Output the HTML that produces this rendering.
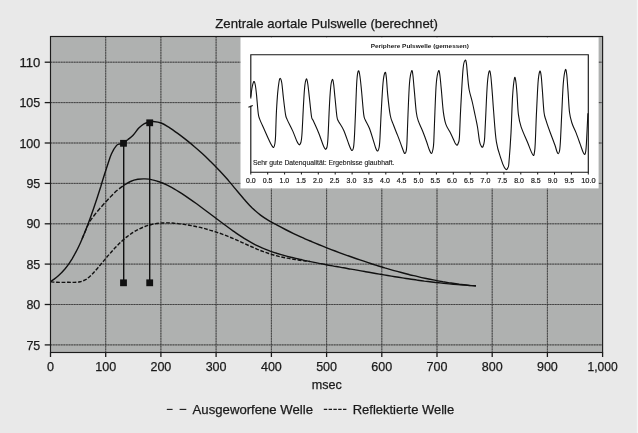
<!DOCTYPE html>
<html lang="de"><head><meta charset="utf-8"><title>Zentrale aortale Pulswelle</title>
<style>html,body{margin:0;padding:0;background:#e9e9e9;overflow:hidden}svg{display:block}text{font-family:"Liberation Sans",sans-serif;fill:#1a1a1a}</style></head><body>
<svg width="638" height="433" viewBox="0 0 638 433">
<rect width="638" height="433" fill="#e9e9e9"/>
<rect x="636.8" y="0" width="1.2" height="433" fill="#f6f6f6"/>
<rect x="50.5" y="36.5" width="552.1" height="316.0" fill="#afb1b0"/>
<g stroke="#5c5c5c" stroke-width="0.7" fill="none">
<line x1="105.7" y1="36.5" x2="105.7" y2="352.5"/>
<line x1="160.9" y1="36.5" x2="160.9" y2="352.5"/>
<line x1="216.1" y1="36.5" x2="216.1" y2="352.5"/>
<line x1="271.4" y1="36.5" x2="271.4" y2="352.5"/>
<line x1="326.6" y1="36.5" x2="326.6" y2="352.5"/>
<line x1="381.8" y1="36.5" x2="381.8" y2="352.5"/>
<line x1="437.0" y1="36.5" x2="437.0" y2="352.5"/>
<line x1="492.2" y1="36.5" x2="492.2" y2="352.5"/>
<line x1="547.4" y1="36.5" x2="547.4" y2="352.5"/>
<line x1="50.5" y1="344.9" x2="602.6" y2="344.9"/>
<line x1="50.5" y1="304.5" x2="602.6" y2="304.5"/>
<line x1="50.5" y1="264.1" x2="602.6" y2="264.1"/>
<line x1="50.5" y1="223.8" x2="602.6" y2="223.8"/>
<line x1="50.5" y1="183.4" x2="602.6" y2="183.4"/>
<line x1="50.5" y1="143.0" x2="602.6" y2="143.0"/>
<line x1="50.5" y1="102.6" x2="602.6" y2="102.6"/>
<line x1="50.5" y1="62.2" x2="602.6" y2="62.2"/>
</g>
<g stroke="#2e2e2e" stroke-width="0.7" stroke-dasharray="1.6 1" fill="none">
<line x1="105.7" y1="36.5" x2="105.7" y2="352.5"/>
<line x1="160.9" y1="36.5" x2="160.9" y2="352.5"/>
<line x1="216.1" y1="36.5" x2="216.1" y2="352.5"/>
<line x1="271.4" y1="36.5" x2="271.4" y2="352.5"/>
<line x1="326.6" y1="36.5" x2="326.6" y2="352.5"/>
<line x1="381.8" y1="36.5" x2="381.8" y2="352.5"/>
<line x1="437.0" y1="36.5" x2="437.0" y2="352.5"/>
<line x1="492.2" y1="36.5" x2="492.2" y2="352.5"/>
<line x1="547.4" y1="36.5" x2="547.4" y2="352.5"/>
<line x1="50.5" y1="344.9" x2="602.6" y2="344.9"/>
<line x1="50.5" y1="304.5" x2="602.6" y2="304.5"/>
<line x1="50.5" y1="264.1" x2="602.6" y2="264.1"/>
<line x1="50.5" y1="223.8" x2="602.6" y2="223.8"/>
<line x1="50.5" y1="183.4" x2="602.6" y2="183.4"/>
<line x1="50.5" y1="143.0" x2="602.6" y2="143.0"/>
<line x1="50.5" y1="102.6" x2="602.6" y2="102.6"/>
<line x1="50.5" y1="62.2" x2="602.6" y2="62.2"/>
</g>
<g fill="none" stroke="#111" stroke-width="1.4" stroke-linecap="butt" stroke-linejoin="round">
<path d="M50.6 281.6C51.2 281.2 53.0 280.0 54.2 279.1C55.4 278.2 56.6 277.3 57.8 276.2C59.0 275.2 60.2 274.1 61.3 272.9C62.5 271.7 63.7 270.4 64.9 269.0C66.1 267.5 67.3 266.0 68.5 264.3C69.7 262.6 70.9 260.7 72.1 258.8C73.3 256.8 74.5 254.7 75.7 252.4C76.9 250.2 78.1 247.8 79.3 245.2C80.5 242.7 81.6 240.0 82.8 237.2C84.0 234.4 85.2 231.4 86.4 228.3C87.6 225.3 88.8 222.1 90.0 218.8C91.2 215.5 92.4 212.1 93.6 208.6C94.8 205.0 96.0 201.4 97.2 197.8C98.4 194.1 99.6 190.3 100.8 186.5C101.9 182.7 103.1 178.8 104.3 175.0C105.5 171.2 106.7 167.4 107.9 163.9C109.1 160.3 110.1 156.7 111.5 153.7C112.9 150.6 115.2 147.0 116.6 145.4C118.0 143.8 118.9 144.3 120.0 144.0C121.1 143.7 122.1 144.0 123.4 143.3C124.7 142.6 126.0 141.2 127.7 139.8C129.3 138.4 131.5 137.0 133.3 135.0C135.2 133.0 137.0 129.9 138.8 128.0C140.7 126.1 142.6 124.6 144.4 123.6C146.2 122.6 148.3 122.3 149.7 121.9C151.1 121.5 150.9 121.3 152.8 121.5C154.7 121.7 158.3 122.0 161.1 123.0C163.8 124.0 166.6 125.9 169.4 127.6C172.1 129.4 174.9 131.4 177.7 133.4C180.4 135.4 183.2 137.5 185.9 139.6C188.7 141.8 191.5 144.1 194.2 146.5C197.0 148.8 199.7 151.3 202.5 153.8C205.3 156.3 208.0 159.0 210.8 161.7C213.6 164.4 216.3 167.2 219.1 170.2C221.8 173.1 224.6 176.1 227.4 179.3C230.1 182.5 232.9 185.8 235.6 189.1C238.4 192.4 241.2 195.8 243.9 199.0C246.7 202.1 249.5 205.3 252.2 208.0C255.0 210.6 257.7 213.0 260.5 215.1C263.3 217.2 266.0 218.9 268.8 220.6C271.5 222.3 274.3 223.7 277.1 225.2C279.8 226.7 282.6 228.1 285.4 229.5C288.1 230.9 290.9 232.3 293.6 233.6C296.4 234.9 299.2 236.2 301.9 237.4C304.7 238.6 307.4 239.9 310.2 241.0C313.0 242.2 315.7 243.4 318.5 244.5C321.3 245.6 324.0 246.7 326.8 247.8C329.5 248.9 332.3 250.0 335.1 251.0C337.8 252.0 340.6 253.1 343.3 254.1C346.1 255.1 348.9 256.1 351.6 257.0C354.4 258.0 357.2 259.0 359.9 259.9C362.7 260.9 365.4 261.8 368.2 262.7C371.0 263.6 373.7 264.5 376.5 265.3C379.2 266.2 382.0 267.0 384.8 267.9C387.5 268.7 390.3 269.5 393.1 270.3C395.8 271.0 398.6 271.8 401.3 272.5C404.1 273.3 406.9 274.0 409.6 274.7C412.4 275.3 415.1 276.0 417.9 276.6C420.7 277.3 423.4 277.9 426.2 278.5C429.0 279.1 431.7 279.6 434.5 280.1C437.2 280.7 440.0 281.2 442.8 281.7C445.5 282.1 448.3 282.6 451.0 283.0C453.8 283.4 456.6 283.8 459.3 284.2C462.1 284.5 464.9 284.9 467.6 285.2C470.4 285.5 474.5 285.8 475.9 286.0"/>
<path d="M123.4 185.6C124.6 184.9 128.0 182.5 130.4 181.5C132.8 180.4 135.3 179.7 137.8 179.3C140.2 178.9 142.7 178.8 145.1 178.9C147.6 179.0 150.0 179.3 152.5 179.9C154.9 180.4 157.4 181.1 159.8 182.0C162.3 182.9 164.7 184.0 167.2 185.2C169.6 186.4 172.1 187.7 174.5 189.1C177.0 190.5 179.4 192.1 181.9 193.6C184.3 195.2 186.8 196.9 189.2 198.6C191.7 200.3 194.1 202.0 196.6 203.8C199.0 205.6 201.5 207.4 203.9 209.2C206.4 211.1 208.8 212.9 211.3 214.8C213.7 216.6 216.2 218.5 218.6 220.3C221.1 222.2 223.5 224.0 226.0 225.8C228.4 227.6 230.9 229.4 233.3 231.1C235.8 232.8 238.2 234.5 240.7 236.1C243.1 237.7 245.6 239.3 248.0 240.7C250.5 242.2 252.9 243.5 255.4 244.8C257.8 246.0 260.3 247.1 262.7 248.2C265.2 249.2 267.6 250.2 270.1 251.1C272.5 251.9 275.0 252.7 277.4 253.5C279.9 254.2 282.3 254.9 284.8 255.6C287.2 256.3 289.7 256.9 292.1 257.5C294.6 258.1 297.0 258.7 299.5 259.3C301.9 259.8 304.4 260.4 306.8 260.9C309.3 261.4 311.7 261.9 314.2 262.4C316.6 262.9 319.1 263.3 321.5 263.8C324.0 264.3 326.4 264.7 328.9 265.2C331.3 265.6 333.8 266.1 336.2 266.5C338.7 266.9 341.1 267.4 343.6 267.8C346.0 268.2 348.5 268.7 350.9 269.1C353.4 269.6 355.8 270.0 358.3 270.4C360.7 270.9 363.2 271.3 365.6 271.7C368.1 272.2 370.5 272.6 373.0 273.0C375.4 273.5 377.9 273.9 380.3 274.3C382.8 274.7 385.2 275.1 387.7 275.5C390.1 275.9 392.6 276.3 395.0 276.7C397.5 277.1 399.9 277.5 402.4 277.9C404.8 278.3 407.3 278.6 409.7 279.0C412.2 279.4 414.6 279.7 417.1 280.1C419.5 280.4 422.0 280.7 424.4 281.1C426.9 281.4 429.3 281.7 431.8 282.0C434.2 282.3 436.7 282.6 439.1 282.8C441.6 283.1 444.0 283.4 446.5 283.6C448.9 283.9 451.4 284.1 453.8 284.3C456.3 284.5 458.7 284.7 461.2 284.9C463.6 285.1 466.1 285.3 468.5 285.4C471.0 285.6 474.7 285.7 475.9 285.8"/>
<path d="M82.1 238.9C83.2 236.4 86.4 228.1 88.5 224.0C90.6 219.9 92.7 217.5 94.9 214.5C97.1 211.5 99.6 208.8 101.9 206.2C104.2 203.5 106.5 201.0 108.8 198.6C111.1 196.2 113.3 193.8 115.7 191.6C118.1 189.4 122.1 186.6 123.4 185.6" stroke-dasharray="4.5 1.8"/>
<path d="M50.6 281.7C51.6 281.8 54.5 282.2 56.5 282.3C58.5 282.4 60.4 282.4 62.4 282.4C64.4 282.4 66.3 282.3 68.3 282.3C70.3 282.3 72.2 282.4 74.2 282.4C76.1 282.3 78.1 282.3 80.1 281.8C82.0 281.3 84.0 280.6 86.0 279.4C87.9 278.1 89.9 276.3 91.9 274.4C93.8 272.5 95.8 270.2 97.8 267.9C99.7 265.6 101.7 263.2 103.7 260.9C105.6 258.6 107.6 256.2 109.6 254.0C111.5 251.7 113.5 249.5 115.4 247.5C117.4 245.4 119.4 243.4 121.3 241.6C123.3 239.8 125.3 238.1 127.2 236.6C129.2 235.1 131.2 233.7 133.1 232.4C135.1 231.2 137.1 230.0 139.0 229.0C141.0 228.1 143.0 227.2 144.9 226.5C146.9 225.7 148.9 225.2 150.8 224.7C152.8 224.2 154.8 223.8 156.7 223.5C158.7 223.3 160.6 223.1 162.6 223.0C164.6 222.9 166.5 222.9 168.5 222.9C170.5 223.0 172.4 223.1 174.4 223.3C176.4 223.4 178.3 223.7 180.3 223.9C182.3 224.1 184.2 224.4 186.2 224.7C188.2 225.0 190.1 225.4 192.1 225.8C194.1 226.1 196.0 226.6 198.0 227.0C200.0 227.4 201.9 227.9 203.9 228.4C205.8 228.9 207.8 229.5 209.8 230.1C211.7 230.6 213.7 231.2 215.7 231.9C217.6 232.5 219.6 233.2 221.6 233.9C223.5 234.6 225.5 235.4 227.5 236.2C229.4 237.0 231.4 237.8 233.4 238.6C235.3 239.5 237.3 240.3 239.3 241.2C241.2 242.1 243.2 243.0 245.1 243.9C247.1 244.8 249.1 245.7 251.0 246.5C253.0 247.4 255.0 248.3 256.9 249.1C258.9 249.9 260.9 250.7 262.8 251.4C264.8 252.2 266.8 252.9 268.7 253.5C270.7 254.1 272.7 254.7 274.6 255.3C276.6 255.8 278.6 256.3 280.5 256.8C282.5 257.2 284.5 257.6 286.4 258.0C288.4 258.4 290.3 258.8 292.3 259.1C294.3 259.4 296.2 259.7 298.2 260.0C300.2 260.3 302.1 260.6 304.1 260.8C306.1 261.1 309.0 261.4 310.0 261.5" stroke-dasharray="3.8 1.7"/>
<line x1="123.7" y1="143.3" x2="123.7" y2="282.8" stroke-width="1.4"/>
<line x1="149.7" y1="122.8" x2="149.7" y2="282.8" stroke-width="1.4"/>
</g>
<rect x="120.1" y="139.9" width="6.8" height="6.8" fill="#111"/>
<rect x="146.3" y="119.4" width="6.8" height="6.8" fill="#111"/>
<rect x="120.1" y="279.4" width="6.8" height="6.8" fill="#111"/>
<rect x="146.3" y="279.4" width="6.8" height="6.8" fill="#111"/>
<rect x="240.5" y="37.4" width="358.1" height="151" fill="#fff"/>
<path d="M250.8 98.5V54.7H588.3V172.2H250.8V105.8" fill="none" stroke="#161616" stroke-width="1.15"/>
<path d="M250.8 96.7C251.0 95.1 251.7 89.5 252.2 87.0C252.7 84.5 253.4 81.8 253.9 81.5C254.4 81.2 254.9 83.0 255.3 85.0C255.7 87.0 255.9 89.0 256.4 93.6C256.9 98.1 257.6 108.1 258.1 112.3C258.6 116.5 258.4 115.6 259.5 118.6C260.6 121.6 263.0 126.6 264.7 130.5C266.4 134.4 268.7 139.5 269.9 142.0C271.1 144.5 271.2 144.6 271.8 145.5C272.4 146.4 273.2 147.8 273.7 147.4C274.2 147.0 274.7 145.0 275.0 143.0C275.3 141.0 275.4 140.0 275.6 135.2C275.8 130.4 276.0 121.3 276.3 114.4C276.6 107.5 277.2 99.0 277.6 93.6C278.1 88.2 278.6 84.5 279.0 82.0C279.4 79.5 279.8 78.2 280.3 78.4C280.8 78.6 281.3 79.8 281.8 83.0C282.3 86.2 282.8 92.6 283.4 97.8C284.0 103.0 284.9 110.8 285.5 114.4C286.1 118.0 286.0 116.8 287.2 119.6C288.4 122.4 291.2 127.4 292.8 131.1C294.4 134.8 296.0 139.4 297.0 141.6C298.0 143.8 298.2 143.7 298.6 144.2C299.1 144.7 299.3 145.1 299.7 144.7C300.1 144.3 300.6 143.6 301.0 142.0C301.4 140.4 301.5 140.3 301.9 135.0C302.3 129.7 302.8 118.2 303.2 110.4C303.6 102.6 304.1 93.2 304.6 88.0C305.1 82.8 305.8 79.7 306.3 79.0C306.8 78.3 307.3 80.9 307.8 84.0C308.3 87.1 308.8 92.4 309.4 97.8C310.0 103.2 310.9 112.7 311.5 116.5C312.1 120.3 312.0 117.7 313.2 120.5C314.4 123.3 317.2 129.2 318.8 133.2C320.4 137.2 322.0 142.2 323.0 144.7C324.0 147.2 324.2 147.4 324.6 148.2C325.1 149.0 325.3 149.5 325.7 149.3C326.1 149.1 326.6 148.7 327.0 147.0C327.4 145.3 327.5 145.1 327.9 139.0C328.3 132.9 328.8 118.9 329.2 110.4C329.6 101.9 330.1 93.2 330.6 88.0C331.1 82.8 331.8 80.2 332.3 79.5C332.8 78.8 333.2 81.0 333.6 84.0C334.1 87.0 334.4 92.4 335.0 97.8C335.6 103.2 336.3 112.5 336.9 116.5C337.5 120.5 337.5 119.2 338.6 121.5C339.8 123.8 342.1 126.6 343.8 130.5C345.5 134.4 347.8 141.6 349.0 144.7C350.2 147.8 350.3 148.0 350.8 149.0C351.3 150.0 351.7 150.7 352.1 150.5C352.5 150.3 353.0 149.9 353.4 148.0C353.8 146.1 353.9 145.3 354.3 139.0C354.7 132.7 355.2 120.2 355.6 110.4C356.0 100.6 356.4 86.6 356.9 80.0C357.4 73.4 357.9 71.6 358.4 70.9C358.9 70.2 359.4 72.6 359.9 76.0C360.4 79.4 361.0 85.1 361.6 91.5C362.2 97.9 363.1 109.7 363.7 114.4C364.3 119.2 364.3 117.7 365.3 120.0C366.3 122.3 368.1 124.9 369.5 128.5C370.9 132.1 372.6 138.2 373.7 141.6C374.8 145.0 375.3 147.2 376.0 148.8C376.7 150.4 377.3 151.3 377.8 151.0C378.3 150.7 378.8 149.3 379.2 147.0C379.6 144.7 379.7 143.2 380.0 137.4C380.3 131.6 380.7 121.4 381.2 112.4C381.7 103.4 382.4 89.9 383.0 83.2C383.6 76.5 384.5 73.3 385.1 72.4C385.7 71.5 386.0 74.5 386.4 78.0C386.8 81.5 387.0 87.3 387.6 93.6C388.2 99.8 389.3 110.3 390.3 115.5C391.3 120.7 392.2 121.5 393.4 124.8C394.6 128.1 396.1 131.6 397.6 135.4C399.1 139.2 401.2 145.0 402.2 147.8C403.2 150.6 403.4 151.1 403.8 152.0C404.2 152.9 404.5 153.7 404.9 153.5C405.3 153.3 405.8 153.0 406.2 151.0C406.6 149.0 406.7 147.7 407.0 141.6C407.3 135.5 407.6 124.1 408.0 114.4C408.4 104.7 408.9 90.5 409.5 83.2C410.1 75.9 411.1 71.9 411.7 70.7C412.3 69.5 412.6 72.9 413.0 76.0C413.4 79.1 413.6 83.4 414.2 89.4C414.8 95.5 415.6 107.0 416.3 112.3C417.0 117.6 417.3 118.1 418.4 121.2C419.4 124.3 421.2 127.5 422.6 131.0C424.0 134.5 425.6 138.8 426.7 142.0C427.8 145.2 428.6 148.1 429.4 150.0C430.2 151.9 430.9 153.5 431.5 153.5C432.1 153.5 432.4 152.0 432.8 150.0C433.2 148.0 433.5 147.9 433.8 141.6C434.1 135.3 434.5 122.1 434.9 112.4C435.3 102.7 435.7 90.2 436.3 83.2C436.9 76.2 438.0 71.9 438.6 70.7C439.2 69.5 439.6 72.9 440.0 76.0C440.4 79.1 440.7 83.4 441.3 89.4C441.9 95.5 442.6 106.5 443.4 112.3C444.2 118.1 444.7 120.9 445.9 124.4C447.1 127.9 449.1 130.2 450.6 133.2C452.1 136.2 453.9 140.5 454.8 142.4C455.8 144.3 455.9 144.2 456.3 144.7C456.7 145.1 456.9 145.5 457.3 145.1C457.7 144.7 458.1 143.8 458.5 142.5C458.9 141.2 459.0 142.8 459.4 137.4C459.8 132.1 460.0 121.9 460.6 110.4C461.2 98.9 462.3 76.9 463.1 68.6C463.9 60.2 464.6 61.1 465.2 60.3C465.8 59.5 466.1 61.2 466.5 64.0C466.9 66.8 467.2 72.7 467.7 77.0C468.1 81.3 468.4 85.8 469.2 90.0C470.0 94.2 471.4 98.1 472.4 102.5C473.4 106.9 474.5 112.4 475.4 116.5C476.2 120.6 476.8 122.8 477.5 127.0C478.2 131.2 479.0 138.5 479.6 141.7C480.2 144.9 480.7 145.1 481.2 146.0C481.7 146.9 482.1 147.5 482.5 147.2C482.9 146.9 483.4 145.7 483.8 144.0C484.2 142.3 484.4 142.2 484.7 137.3C485.0 132.4 485.4 123.4 485.8 114.4C486.2 105.4 486.8 90.4 487.4 83.2C488.0 76.0 488.7 72.3 489.3 71.1C489.9 69.9 490.4 73.0 490.8 76.0C491.2 79.0 491.5 83.6 492.0 89.4C492.5 95.2 492.9 102.3 493.6 111.0C494.3 119.7 495.1 133.8 496.4 141.8C497.6 149.8 499.8 154.9 501.1 159.2C502.4 163.5 503.5 165.9 504.4 167.6C505.3 169.3 506.0 169.6 506.6 169.6C507.2 169.6 507.6 168.6 508.0 167.5C508.4 166.4 508.4 168.8 508.9 163.0C509.4 157.2 510.4 144.1 511.0 132.9C511.6 121.7 512.0 105.2 512.6 96.0C513.2 86.8 514.0 80.3 514.5 78.0C515.0 75.7 515.5 79.4 515.9 82.0C516.3 84.6 516.6 88.2 517.0 93.6C517.4 99.0 517.7 108.9 518.4 114.4C519.1 120.0 519.6 122.3 521.1 126.9C522.6 131.5 525.7 137.9 527.4 142.0C529.1 146.1 530.2 149.3 531.2 151.6C532.2 153.8 532.9 155.3 533.4 155.5C533.9 155.7 534.1 154.4 534.4 152.5C534.7 150.6 534.9 150.6 535.2 143.9C535.6 137.2 536.0 122.5 536.5 112.4C537.0 102.3 537.5 90.1 538.0 83.2C538.5 76.3 539.3 72.5 539.8 71.3C540.3 70.1 540.8 73.0 541.2 76.0C541.6 79.0 541.8 83.4 542.3 89.4C542.8 95.5 543.4 107.1 544.0 112.3C544.6 117.5 545.1 117.2 546.1 120.6C547.1 124.0 548.7 128.4 550.2 132.5C551.7 136.6 553.8 141.8 554.9 145.0C556.0 148.2 556.3 150.0 556.9 151.5C557.5 153.0 557.8 153.9 558.2 153.8C558.6 153.7 559.1 153.0 559.5 151.0C559.9 149.0 560.0 148.1 560.4 141.7C560.8 135.3 561.3 122.2 561.8 112.4C562.3 102.7 562.7 90.3 563.3 83.2C563.9 76.1 564.8 71.1 565.4 69.7C566.0 68.3 566.4 71.7 566.8 75.0C567.2 78.3 567.4 83.2 567.9 89.4C568.4 95.6 568.8 106.6 569.5 112.3C570.2 118.0 571.0 120.0 572.1 123.5C573.2 127.0 574.9 129.7 576.2 133.1C577.5 136.5 579.0 140.8 580.1 143.9C581.2 147.0 582.1 149.8 582.8 151.5C583.5 153.2 584.0 154.3 584.5 154.4C585.0 154.5 585.3 153.8 585.6 152.0C585.9 150.2 586.0 150.4 586.4 143.9C586.8 137.4 587.6 118.3 587.9 113.2" fill="none" stroke="#111" stroke-width="1.1" stroke-linejoin="round"/>
<line x1="248.4" y1="107.3" x2="252.8" y2="105.5" stroke="#111" stroke-width="1.1"/>
<line x1="250.8" y1="172.2" x2="250.8" y2="174.5" stroke="#161616" stroke-width="1"/>
<line x1="267.7" y1="172.2" x2="267.7" y2="174.5" stroke="#161616" stroke-width="1"/>
<line x1="284.6" y1="172.2" x2="284.6" y2="174.5" stroke="#161616" stroke-width="1"/>
<line x1="301.4" y1="172.2" x2="301.4" y2="174.5" stroke="#161616" stroke-width="1"/>
<line x1="318.3" y1="172.2" x2="318.3" y2="174.5" stroke="#161616" stroke-width="1"/>
<line x1="335.2" y1="172.2" x2="335.2" y2="174.5" stroke="#161616" stroke-width="1"/>
<line x1="352.1" y1="172.2" x2="352.1" y2="174.5" stroke="#161616" stroke-width="1"/>
<line x1="368.9" y1="172.2" x2="368.9" y2="174.5" stroke="#161616" stroke-width="1"/>
<line x1="385.8" y1="172.2" x2="385.8" y2="174.5" stroke="#161616" stroke-width="1"/>
<line x1="402.7" y1="172.2" x2="402.7" y2="174.5" stroke="#161616" stroke-width="1"/>
<line x1="419.6" y1="172.2" x2="419.6" y2="174.5" stroke="#161616" stroke-width="1"/>
<line x1="436.4" y1="172.2" x2="436.4" y2="174.5" stroke="#161616" stroke-width="1"/>
<line x1="453.3" y1="172.2" x2="453.3" y2="174.5" stroke="#161616" stroke-width="1"/>
<line x1="470.2" y1="172.2" x2="470.2" y2="174.5" stroke="#161616" stroke-width="1"/>
<line x1="487.1" y1="172.2" x2="487.1" y2="174.5" stroke="#161616" stroke-width="1"/>
<line x1="503.9" y1="172.2" x2="503.9" y2="174.5" stroke="#161616" stroke-width="1"/>
<line x1="520.8" y1="172.2" x2="520.8" y2="174.5" stroke="#161616" stroke-width="1"/>
<line x1="537.7" y1="172.2" x2="537.7" y2="174.5" stroke="#161616" stroke-width="1"/>
<line x1="554.5" y1="172.2" x2="554.5" y2="174.5" stroke="#161616" stroke-width="1"/>
<line x1="571.4" y1="172.2" x2="571.4" y2="174.5" stroke="#161616" stroke-width="1"/>
<line x1="588.3" y1="172.2" x2="588.3" y2="174.5" stroke="#161616" stroke-width="1"/>
<g font-size="7" stroke="#1a1a1a" stroke-width="0.2">
<text x="246.0" y="182.8" textLength="9.7" lengthAdjust="spacingAndGlyphs">0.0</text>
<text x="262.8" y="182.8" textLength="9.7" lengthAdjust="spacingAndGlyphs">0.5</text>
<text x="279.5" y="182.8" textLength="9.7" lengthAdjust="spacingAndGlyphs">1.0</text>
<text x="296.3" y="182.8" textLength="9.7" lengthAdjust="spacingAndGlyphs">1.5</text>
<text x="313.0" y="182.8" textLength="9.7" lengthAdjust="spacingAndGlyphs">2.0</text>
<text x="329.8" y="182.8" textLength="9.7" lengthAdjust="spacingAndGlyphs">2.5</text>
<text x="346.6" y="182.8" textLength="9.7" lengthAdjust="spacingAndGlyphs">3.0</text>
<text x="363.3" y="182.8" textLength="9.7" lengthAdjust="spacingAndGlyphs">3.5</text>
<text x="380.1" y="182.8" textLength="9.7" lengthAdjust="spacingAndGlyphs">4.0</text>
<text x="396.8" y="182.8" textLength="9.7" lengthAdjust="spacingAndGlyphs">4.5</text>
<text x="413.6" y="182.8" textLength="9.7" lengthAdjust="spacingAndGlyphs">5.0</text>
<text x="430.4" y="182.8" textLength="9.7" lengthAdjust="spacingAndGlyphs">5.5</text>
<text x="447.1" y="182.8" textLength="9.7" lengthAdjust="spacingAndGlyphs">6.0</text>
<text x="463.9" y="182.8" textLength="9.7" lengthAdjust="spacingAndGlyphs">6.5</text>
<text x="480.6" y="182.8" textLength="9.7" lengthAdjust="spacingAndGlyphs">7.0</text>
<text x="497.4" y="182.8" textLength="9.7" lengthAdjust="spacingAndGlyphs">7.5</text>
<text x="514.2" y="182.8" textLength="9.7" lengthAdjust="spacingAndGlyphs">8.0</text>
<text x="530.9" y="182.8" textLength="9.7" lengthAdjust="spacingAndGlyphs">8.5</text>
<text x="547.7" y="182.8" textLength="9.7" lengthAdjust="spacingAndGlyphs">9.0</text>
<text x="564.4" y="182.8" textLength="9.7" lengthAdjust="spacingAndGlyphs">9.5</text>
<text x="581.2" y="182.8" textLength="14.4" lengthAdjust="spacingAndGlyphs">10.0</text>
</g>
<text x="419.8" y="47.7" font-size="6.1" font-weight="bold" text-anchor="middle" textLength="98.3" lengthAdjust="spacingAndGlyphs">Periphere Pulswelle (gemessen)</text>
<text x="252.9" y="165.1" font-size="6.4" stroke="#1a1a1a" stroke-width="0.12" textLength="141.6" lengthAdjust="spacingAndGlyphs">Sehr gute Datenqualität: Ergebnisse glaubhaft.</text>
<rect x="50.5" y="36.5" width="552.1" height="316.0" fill="none" stroke="#1c1c1c" stroke-width="1.15"/>
<g stroke="#1c1c1c" stroke-width="1.3">
<line x1="50.5" y1="352.5" x2="50.5" y2="357"/>
<line x1="105.7" y1="352.5" x2="105.7" y2="357"/>
<line x1="160.9" y1="352.5" x2="160.9" y2="357"/>
<line x1="216.1" y1="352.5" x2="216.1" y2="357"/>
<line x1="271.4" y1="352.5" x2="271.4" y2="357"/>
<line x1="326.6" y1="352.5" x2="326.6" y2="357"/>
<line x1="381.8" y1="352.5" x2="381.8" y2="357"/>
<line x1="437.0" y1="352.5" x2="437.0" y2="357"/>
<line x1="492.2" y1="352.5" x2="492.2" y2="357"/>
<line x1="547.4" y1="352.5" x2="547.4" y2="357"/>
<line x1="602.6" y1="352.5" x2="602.6" y2="357"/>
<line x1="44.7" y1="344.9" x2="50.5" y2="344.9"/>
<line x1="44.7" y1="304.5" x2="50.5" y2="304.5"/>
<line x1="44.7" y1="264.1" x2="50.5" y2="264.1"/>
<line x1="44.7" y1="223.8" x2="50.5" y2="223.8"/>
<line x1="44.7" y1="183.4" x2="50.5" y2="183.4"/>
<line x1="44.7" y1="143.0" x2="50.5" y2="143.0"/>
<line x1="44.7" y1="102.6" x2="50.5" y2="102.6"/>
<line x1="44.7" y1="62.2" x2="50.5" y2="62.2"/>
</g>
<g font-size="12.9" stroke="#1a1a1a" stroke-width="0.25">
<text x="40.3" y="349.5" text-anchor="end" textLength="13.9" lengthAdjust="spacingAndGlyphs">75</text>
<text x="40.3" y="309.1" text-anchor="end" textLength="13.9" lengthAdjust="spacingAndGlyphs">80</text>
<text x="40.3" y="268.8" text-anchor="end" textLength="13.9" lengthAdjust="spacingAndGlyphs">85</text>
<text x="40.3" y="228.4" text-anchor="end" textLength="13.9" lengthAdjust="spacingAndGlyphs">90</text>
<text x="40.3" y="188.0" text-anchor="end" textLength="13.9" lengthAdjust="spacingAndGlyphs">95</text>
<text x="40.3" y="147.6" text-anchor="end" textLength="20.9" lengthAdjust="spacingAndGlyphs">100</text>
<text x="40.3" y="107.2" text-anchor="end" textLength="20.9" lengthAdjust="spacingAndGlyphs">105</text>
<text x="40.3" y="66.8" text-anchor="end" textLength="20.9" lengthAdjust="spacingAndGlyphs">110</text>
<text x="50.5" y="371.4" text-anchor="middle" textLength="7.0" lengthAdjust="spacingAndGlyphs">0</text>
<text x="105.7" y="371.4" text-anchor="middle" textLength="20.9" lengthAdjust="spacingAndGlyphs">100</text>
<text x="160.9" y="371.4" text-anchor="middle" textLength="20.9" lengthAdjust="spacingAndGlyphs">200</text>
<text x="216.1" y="371.4" text-anchor="middle" textLength="20.9" lengthAdjust="spacingAndGlyphs">300</text>
<text x="271.4" y="371.4" text-anchor="middle" textLength="20.9" lengthAdjust="spacingAndGlyphs">400</text>
<text x="326.6" y="371.4" text-anchor="middle" textLength="20.9" lengthAdjust="spacingAndGlyphs">500</text>
<text x="381.8" y="371.4" text-anchor="middle" textLength="20.9" lengthAdjust="spacingAndGlyphs">600</text>
<text x="437.0" y="371.4" text-anchor="middle" textLength="20.9" lengthAdjust="spacingAndGlyphs">700</text>
<text x="492.2" y="371.4" text-anchor="middle" textLength="20.9" lengthAdjust="spacingAndGlyphs">800</text>
<text x="547.4" y="371.4" text-anchor="middle" textLength="20.9" lengthAdjust="spacingAndGlyphs">900</text>
<text x="602.6" y="371.4" text-anchor="middle" textLength="30.2" lengthAdjust="spacingAndGlyphs">1,000</text>
<text x="311.8" y="388.8" textLength="30.1" lengthAdjust="spacingAndGlyphs">msec</text>
<text x="192.6" y="413.9" textLength="120.4" lengthAdjust="spacingAndGlyphs">Ausgeworfene Welle</text>
<text x="352.7" y="413.9" textLength="101.5" lengthAdjust="spacingAndGlyphs">Reflektierte Welle</text>
<text x="215.3" y="28.2" textLength="222.5" lengthAdjust="spacingAndGlyphs">Zentrale aortale Pulswelle (berechnet)</text>
</g>
<g stroke="#1a1a1a" stroke-width="1.1">
<line x1="166.8" y1="409.4" x2="172.6" y2="409.4"/><line x1="179.6" y1="409.4" x2="186.3" y2="409.4"/>
<line x1="323.8" y1="409.4" x2="346.4" y2="409.4" stroke-dasharray="3.4 1.4"/>
</g>
</svg></body></html>
